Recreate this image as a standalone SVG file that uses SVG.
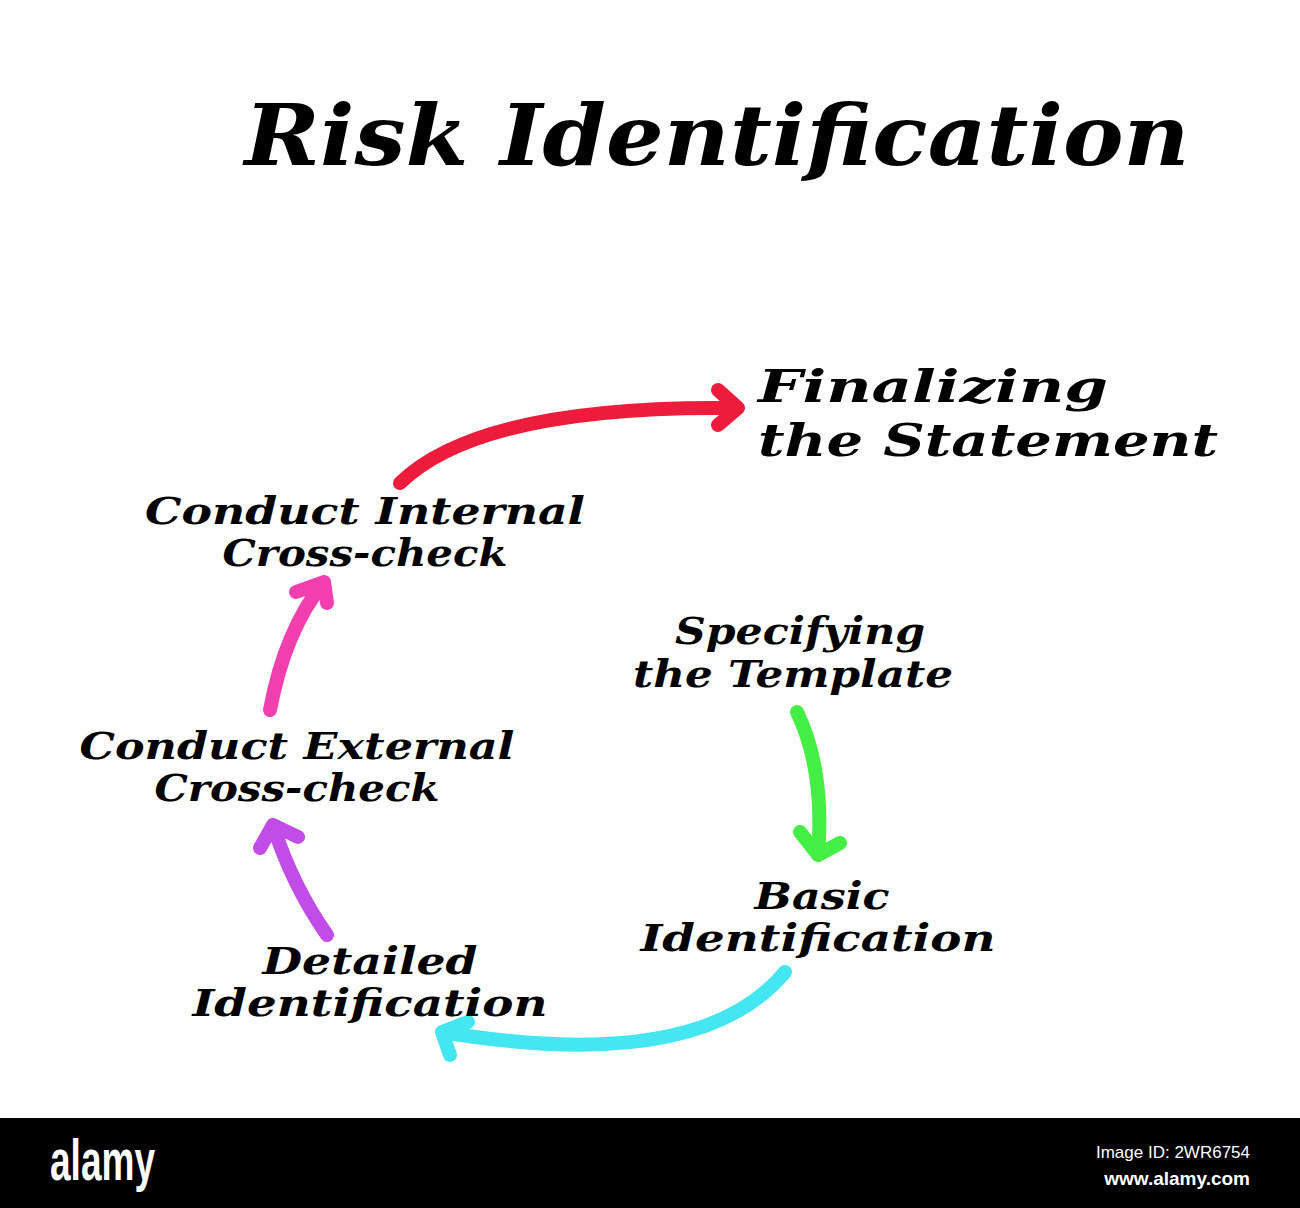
<svg xmlns="http://www.w3.org/2000/svg" width="1300" height="1208" viewBox="0 0 1300 1208">
<style>
.t{font-family:"DejaVu Serif","Liberation Serif",serif;font-style:italic;font-weight:bold;fill:#000;text-anchor:middle}
.n{font-size:38px}
.a{fill:none;stroke-width:14;stroke-linecap:round;stroke-linejoin:round}
.w{font-family:"Liberation Sans","DejaVu Sans",sans-serif;fill:#fff}
</style>
<rect x="0" y="0" width="1300" height="1208" fill="#fff"/>
<text class="t" x="717" y="165" font-size="84" textLength="945" lengthAdjust="spacingAndGlyphs">Risk Identification</text>
<g id="connectors">
<path class="a" stroke="#ee1c3c" d="M400 483 Q480 405 735 408 M718 390 L738 408 L718 425"/>
<path class="a" stroke="#44ee44" d="M797 712 Q825 770 818 855 M800 832 L818 855 L840 843"/>
<path class="a" stroke="#44e6f2" d="M785 972 Q700 1075 442 1032 M468 1022 L442 1032 L450 1055"/>
<path class="a" stroke="#f23fb0" d="M270 710 Q285 630 324 582 M296 592 L324 582 L327 603"/>
<path class="a" stroke="#c24ce8" d="M327 935 Q292 885 273 825 M260 848 L273 825 L298 837"/>
</g>
<g id="n-final"><text class="t" font-size="44" x="758" y="402" style="text-anchor:start" textLength="350" lengthAdjust="spacingAndGlyphs">Finalizing</text><text class="t" font-size="44" x="758" y="456" style="text-anchor:start" textLength="460" lengthAdjust="spacingAndGlyphs">the Statement</text></g>
<g id="n-internal"><text class="t n" x="365" y="524" textLength="440" lengthAdjust="spacingAndGlyphs">Conduct Internal</text><text class="t n" x="365" y="566" textLength="285" lengthAdjust="spacingAndGlyphs">Cross-check</text></g>
<g id="n-template"><text class="t n" x="800" y="644" textLength="250" lengthAdjust="spacingAndGlyphs">Specifying</text><text class="t n" x="793" y="687" textLength="320" lengthAdjust="spacingAndGlyphs">the Template</text></g>
<g id="n-external"><text class="t n" x="297" y="759" textLength="435" lengthAdjust="spacingAndGlyphs">Conduct External</text><text class="t n" x="297" y="801" textLength="285" lengthAdjust="spacingAndGlyphs">Cross-check</text></g>
<g id="n-basic"><text class="t n" x="822" y="909" textLength="135" lengthAdjust="spacingAndGlyphs">Basic</text><text class="t n" x="818" y="951" textLength="355" lengthAdjust="spacingAndGlyphs">Identification</text></g>
<g id="n-detailed"><text class="t n" x="370" y="974" textLength="215" lengthAdjust="spacingAndGlyphs">Detailed</text><text class="t n" x="370" y="1016" textLength="355" lengthAdjust="spacingAndGlyphs">Identification</text></g>
<g id="watermark">
<rect x="0" y="1118" width="1300" height="90" fill="#000"/>
<text class="w" x="50" y="1180" font-size="58" font-weight="bold" textLength="105" lengthAdjust="spacingAndGlyphs">alamy</text>
<text class="w" x="1250" y="1158" font-size="17" text-anchor="end">Image ID: 2WR6754</text>
<text class="w" x="1250" y="1185" font-size="19" font-weight="bold" text-anchor="end">www.alamy.com</text>
</g>
</svg>
